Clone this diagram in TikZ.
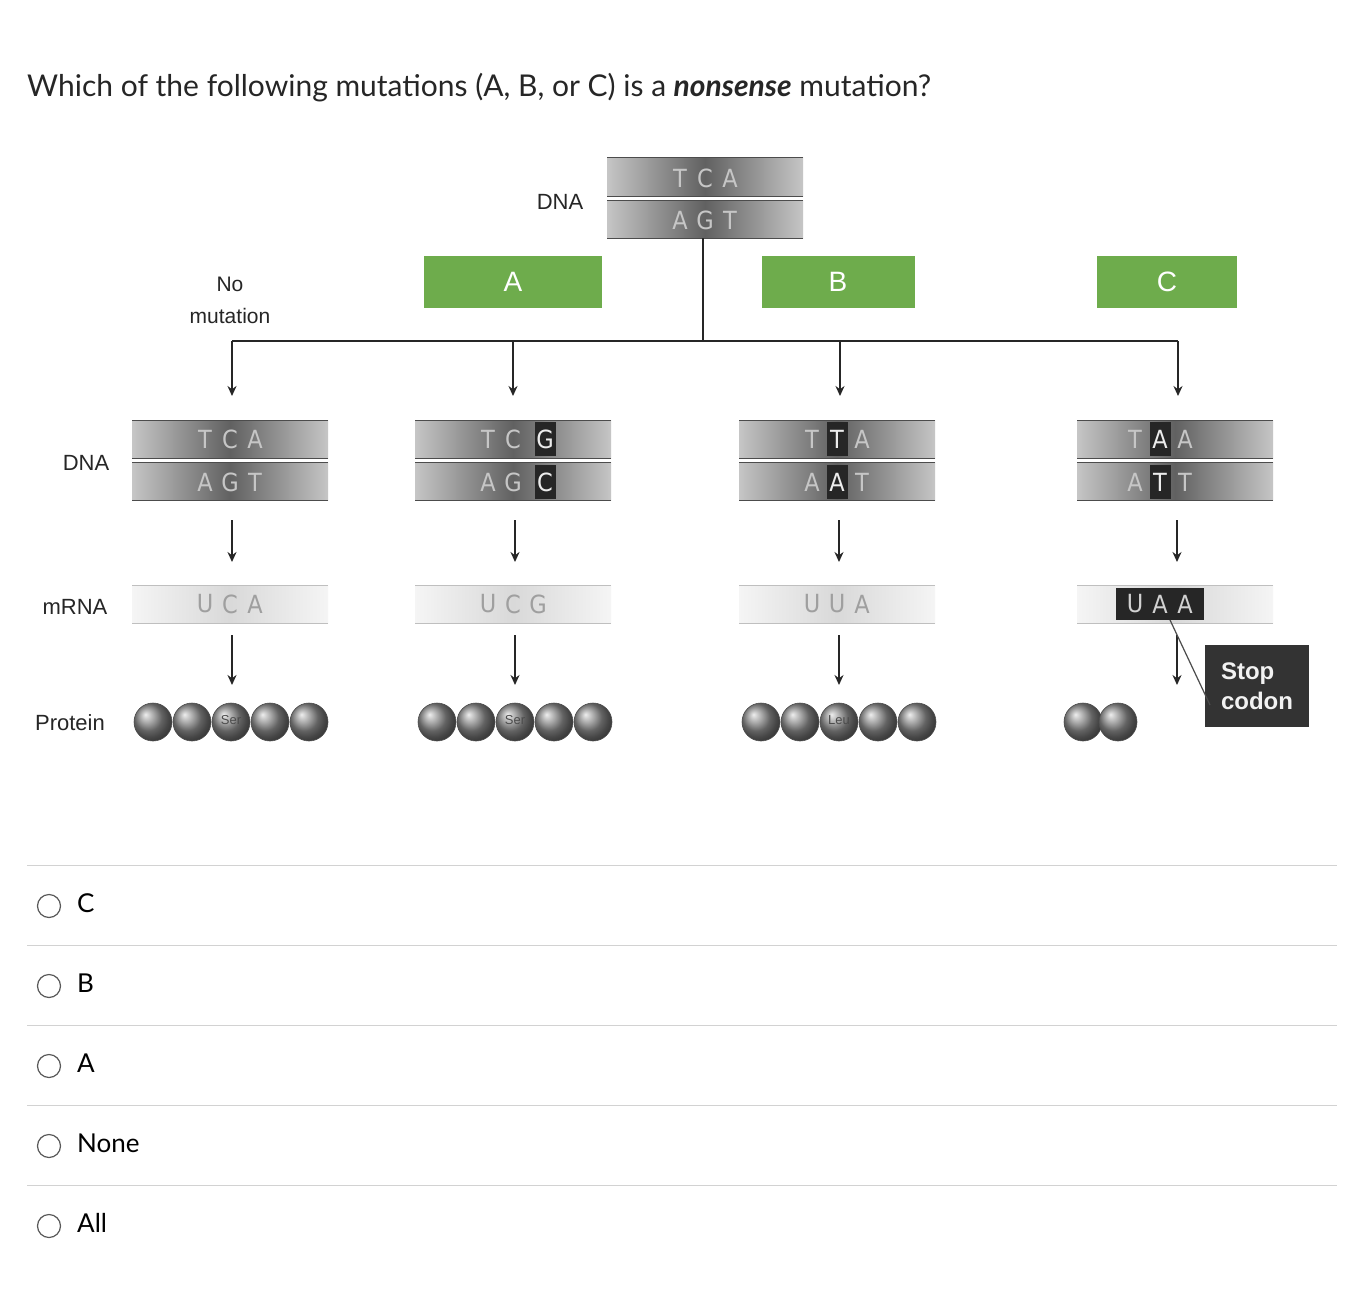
\documentclass[tikz,border=0pt]{standalone}
\usetikzlibrary{arrows.meta}
\usepackage{fontspec}
\setmainfont{Lato}
\newfontfamily\hv{Liberation Sans}
\newfontfamily\hvc{DejaVu Sans Condensed}
\begin{document}
\begin{tikzpicture}[x=1pt,y=-1pt,
  lbl/.style={font=\hv\fontsize{22}{24}\selectfont,text=black!85,inner sep=0pt},
  base/.style={font=\hvc\fontsize{25}{25}\selectfont,text=gray!45,inner sep=0pt},
  hil/.style={font=\hvc\fontsize{25}{25}\selectfont,text=white!85!gray,fill=black!85,minimum width=21pt,minimum height=34pt,inner sep=0pt},
  mbase/.style={font=\hvc\fontsize{25}{25}\selectfont,text=gray!75,inner sep=0pt},
  gbox/.style={fill={rgb,255:red,110;green,172;blue,76},minimum width=#1,minimum height=52pt,inner sep=0pt,text=white,font=\hv\fontsize{28}{28}\selectfont},
  arr/.style={-{Stealth[length=10pt,width=9pt]},line width=1.6pt,black!85},
  bead/.style={circle,ball color=gray!90,minimum size=38pt,inner sep=0pt,draw=black!70,line width=0.6pt},
  sep/.style={draw=gray!35,line width=1pt},
  radio/.style={circle,draw=black!65,line width=1.2pt,minimum size=23pt,inner sep=0pt},
  opt/.style={font=\fontsize{26}{28}\selectfont,anchor=west,inner sep=0pt}]
\useasboundingbox (0,0) rectangle (1372,1300);
\fill[white] (0,0) rectangle (1372,1300);
\node[anchor=base west,inner sep=0pt,font=\fontsize{30}{32}\selectfont,text=black!85] (title) at (27,97)
  {Which of the following mutations (A, B, or C) is a \textbf{\textit{nonsense}} mutation?};
% strands
\newcommand{\dstrand}[3]{% cx, ytop, height
  \shade[left color=gray!45,right color=gray!45,middle color=black!62] (#1-98,#2) rectangle (#1+98,#2+#3);
  \draw[black!70,line width=1pt] (#1-98,#2) -- (#1+98,#2) (#1-98,#2+#3) -- (#1+98,#2+#3);}
\newcommand{\mstrand}[2]{%
  \shade[left color=gray!8,right color=gray!8,middle color=gray!30] (#1-98,#2) rectangle (#1+98,#2+38);
  \draw[gray!50,line width=1pt] (#1-98,#2) -- (#1+98,#2) (#1-98,#2+38) -- (#1+98,#2+38);}
% top DNA
\dstrand{705}{158}{38}
\dstrand{705}{200}{38}
\node[base] at (680,178) {T};\node[base] at (705,178) {C};\node[base] at (730,178) {A};
\node[base] at (680,220) {A};\node[base] at (705,220) {G};\node[base] at (730,220) {T};
\node[lbl] (topdna) at (560,202) {DNA};
\coordinate (stem) at (703,238);
\coordinate (junc) at (703,341);
\draw[line width=2pt,black!85] (stem) -- (junc);
\draw[line width=2pt,black!85] (232,341) -- (1178,341);
\foreach \x/\n in {232/a0,513/a1,840/a2,1178/a3}{
  \coordinate (\n top) at (\x,341);
  \coordinate (\n bot) at (\x,396);
  \draw[arr] (\n top) -- (\n bot);}
\node[gbox=178pt] (A) at (513,282) {A};
\node[gbox=153pt] (B) at (838,282) {B};
\node[gbox=140pt] (C) at (1167,282) {C};
\node[lbl,align=center,font=\hv\fontsize{21}{32}\selectfont] (nomut) at (230,300) {No\\mutation};
% row labels
\node[lbl] (ldna) at (86,463) {DNA};
\node[lbl] (lmrna) at (75,607) {mRNA};
\node[lbl] (lprot) at (70,723) {Protein};
% columns
\foreach \cx in {230,513,837,1175}{
  \dstrand{\cx}{420}{38}
  \dstrand{\cx}{462}{38}
  \mstrand{\cx}{585}
  \draw[arr] (\cx+2,520) -- (\cx+2,562);
  \draw[arr] (\cx+2,635) -- (\cx+2,685);
}
% col 0
\node[base] at (205,439) {T};\node[base] at (230,439) {C};\node[base] at (255,439) {A};
\node[base] at (205,482) {A};\node[base] at (230,482) {G};\node[base] at (255,482) {T};
\node[mbase] at (205,604) {U};\node[mbase] at (230,604) {C};\node[mbase] at (255,604) {A};
% col A
\node[base] at (488,439) {T};\node[base] at (513,439) {C};\node[hil] at (545,439) {G};
\node[base] at (488,482) {A};\node[base] at (513,482) {G};\node[hil] at (545,482) {C};
\node[mbase] at (488,604) {U};\node[mbase] at (513,604) {C};\node[mbase] at (538,604) {G};
% col B
\node[base] at (812,439) {T};\node[hil] at (837,439) {T};\node[base] at (862,439) {A};
\node[base] at (812,482) {A};\node[hil] at (837,482) {A};\node[base] at (862,482) {T};
\node[mbase] at (812,604) {U};\node[mbase] at (837,604) {U};\node[mbase] at (862,604) {A};
% col C
\node[base] at (1135,439) {T};\node[hil] at (1160,439) {A};\node[base] at (1185,439) {A};
\node[base] at (1135,482) {A};\node[hil] at (1160,482) {T};\node[base] at (1185,482) {T};
\node[fill=black!85,minimum width=88pt,minimum height=32pt,inner sep=0pt] (uaa) at (1160,604) {};
\node[base,text=gray!35] at (1135,604) {U};\node[base,text=gray!35] at (1160,604) {A};\node[base,text=gray!35] at (1185,604) {A};
\node[fill=black!80,text=white!90!gray,font=\hv\bfseries\fontsize{24}{30}\selectfont,align=left,minimum width=104pt,minimum height=82pt,inner sep=0pt] (stop) at (1257,686) {Stop\\codon};
\draw[black!70,line width=1.2pt] (1170,620) -- (1210,705);
% proteins
\foreach \cx/\lab in {231/Ser,515/Ser,839/Leu}{
  \foreach \i in {-2,...,2}{
    \node[bead] at (\cx+\i*39,722) {};}
  \node[font=\hv\fontsize{13}{13}\selectfont,text=black!70] at (\cx,720) {\lab};
}
\node[bead] (p1) at (1083,722) {};
\node[bead] (p2) at (1118,722) {};
% options
\foreach \y in {865,945,1025,1105,1185}{\draw[sep] (27,\y) -- (1337,\y);}
\foreach \y/\t/\n in {906/C/o1,986/B/o2,1066/A/o3,1146/None/o4,1226/All/o5}{
  \node[radio] (\n c) at (49,\y) {};
  \node[opt] (\n t) at (77,\y-3) {\t};}
\end{tikzpicture}
\end{document}
